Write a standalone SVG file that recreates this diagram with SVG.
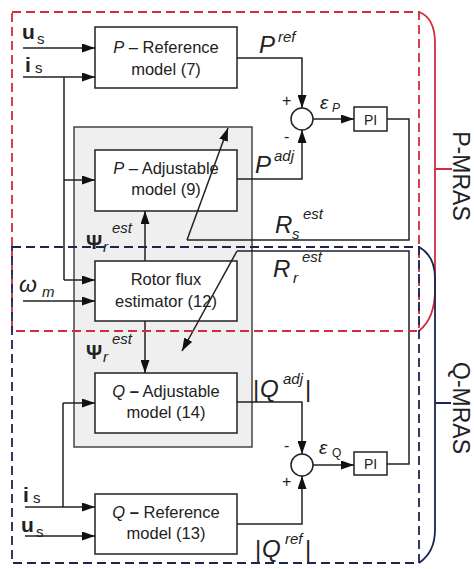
<svg xmlns="http://www.w3.org/2000/svg" width="474" height="569" viewBox="0 0 474 569">
<defs>
<marker id="ah" markerUnits="userSpaceOnUse" markerWidth="13" markerHeight="9" refX="13" refY="4.5" orient="auto">
<path d="M0,0 L13,4.5 L0,9 z" fill="#111"/>
</marker>
<style>
.box{fill:#fff;stroke:#222;stroke-width:1.5}
.gray{fill:#efefef;stroke:#444;stroke-width:1.5}
.ln{fill:none;stroke:#222;stroke-width:1.5}
.arr{fill:none;stroke:#222;stroke-width:1.5;marker-end:url(#ah)}
.t{font-family:"Liberation Sans",Arial,sans-serif;fill:#222}
.bt{font-size:16.5px;text-anchor:middle}
.it{font-style:italic}
.b{font-weight:bold}
.red{fill:none;stroke:#d42a3c;stroke-width:1.8;stroke-dasharray:9 5}
.blue{fill:none;stroke:#1c2456;stroke-width:1.8;stroke-dasharray:9 5}
</style>
</defs>
<rect width="474" height="569" fill="#fff"/>

<g id="gray-block"><rect class="gray" x="74" y="127" width="178" height="320"/></g>

<g id="p-ref"><rect class="box" x="95" y="27" width="142" height="61"/>
<text class="t bt" x="166" y="53"><tspan class="it">P</tspan> – Reference</text>
<text class="t bt" x="166" y="75">model (7)</text></g>

<g id="p-adj"><rect class="box" x="95" y="150" width="142" height="61"/>
<text class="t bt" x="166" y="174"><tspan class="it">P</tspan> – Adjustable</text>
<text class="t bt" x="166" y="195">model (9)</text></g>

<g id="rotor-flux"><rect class="box" x="95" y="261" width="142" height="60"/>
<text class="t bt" x="166" y="285">Rotor flux</text>
<text class="t bt" x="166" y="307">estimator (12)</text></g>

<g id="q-adj"><rect class="box" x="95" y="373" width="142" height="60"/>
<text class="t bt" x="166" y="397"><tspan class="it">Q</tspan> <tspan class="b">–</tspan> Adjustable</text>
<text class="t bt" x="166" y="418">model (14)</text></g>

<g id="q-ref"><rect class="box" x="95" y="494" width="142" height="60"/>
<text class="t bt" x="166" y="518"><tspan class="it">Q</tspan> <tspan class="b">–</tspan> Reference</text>
<text class="t bt" x="166" y="539">model (13)</text></g>

<g id="sum-p"><circle cx="302" cy="119" r="11" fill="#fff" stroke="#222" stroke-width="1.5"/></g>
<g id="sum-q"><circle cx="302" cy="465" r="11" fill="#fff" stroke="#222" stroke-width="1.5"/></g>

<g id="pi-p"><rect class="box" x="354" y="107" width="33" height="24"/>
<text class="t" x="370.5" y="125" font-size="14" text-anchor="middle">PI</text></g>
<g id="pi-q"><rect class="box" x="354" y="452" width="33" height="23"/>
<text class="t" x="370.5" y="469" font-size="14" text-anchor="middle">PI</text></g>

<g id="connectors">
<path class="arr" d="M23,48 H95"/>
<path class="arr" d="M23,77 H95"/>
<path class="ln" d="M64,77 V280"/>
<path class="arr" d="M64,180 H95"/>
<path class="arr" d="M64,280 H95"/>
<path class="arr" d="M23,301 H95"/>
<path class="arr" d="M145,261 V211"/>
<path class="arr" d="M145,321 V373"/>
<path class="arr" d="M237,58 H302 V108"/>
<path class="arr" d="M237,179 H302 V130"/>
<path class="arr" d="M313,119 H354"/>
<path class="ln" d="M387,119 H409 V240 H187"/>
<path class="arr" d="M187,240 L228,128"/>
<path class="ln" d="M387,464 H409 V251 H237"/>
<path class="arr" d="M237,251 L182,351"/>
<path class="arr" d="M237,402 H302 V454"/>
<path class="arr" d="M237,524 H302 V476"/>
<path class="arr" d="M313,465 H354"/>
<path class="arr" d="M25,507 H95"/>
<path class="ln" d="M63,507 V403"/>
<path class="arr" d="M63,403 H95"/>
<path class="arr" d="M25,536 H95"/>
</g>

<g id="labels" class="t">
<text x="22" y="39" font-size="21" class="b">u</text><text x="37" y="44" font-size="15">s</text>
<text x="25" y="72" font-size="21" class="b">i</text><text x="35" y="73" font-size="15">s</text>
<text x="19" y="292" font-size="23" class="it">ω</text><text x="42" y="297" font-size="15" class="it">m</text>
<text x="23" y="502" font-size="21" class="b">i</text><text x="33" y="503" font-size="15">s</text>
<text x="21" y="532" font-size="21" class="b">u</text><text x="36" y="537" font-size="15">s</text>

<text x="86" y="249" font-size="20" class="b">Ψ</text><text x="103" y="252" font-size="15" class="it">r</text><text x="112" y="233" font-size="15" class="it">est</text>
<text x="86" y="359" font-size="20" class="b">Ψ</text><text x="103" y="362" font-size="15" class="it">r</text><text x="112" y="344" font-size="15" class="it">est</text>

<text x="259" y="53" font-size="24" class="it">P</text><text x="278" y="42" font-size="15" class="it">ref</text>
<text x="255" y="173" font-size="24" class="it">P</text><text x="274" y="161" font-size="15" class="it">adj</text>
<text x="282" y="106" font-size="16">+</text>
<text x="284" y="142" font-size="16">-</text>
<text x="320" y="109" font-size="19" class="it">ε</text><text x="332" y="112" font-size="12" class="it">P</text>

<text x="275" y="233" font-size="24" class="it">R</text><text x="292" y="239" font-size="15" class="it">s</text><text x="303" y="219" font-size="15" class="it">est</text>
<text x="273" y="277" font-size="24" class="it">R</text><text x="293" y="283" font-size="15" class="it">r</text><text x="302" y="262" font-size="15" class="it">est</text>

<text x="253" y="397" font-size="24">|</text><text x="260" y="397" font-size="24" class="it">Q</text><text x="283" y="384" font-size="15" class="it">adj</text><text x="305" y="397" font-size="24">|</text>
<text x="284" y="451" font-size="16">-</text>
<text x="282" y="487" font-size="16">+</text>
<text x="319" y="454" font-size="19" class="it">ε</text><text x="332" y="457" font-size="12">Q</text>
<text x="255" y="557" font-size="24">|</text><text x="262" y="557" font-size="24" class="it">Q</text><text x="285" y="544" font-size="15" class="it">ref</text><text x="305" y="557" font-size="24">|</text>
</g>

<g id="p-mras">
<rect class="red" x="12" y="12" width="407" height="319"/>
<path d="M419,12 Q435,18 435,43 V290 Q435,318 419,331 M435,169 H452" fill="none" stroke="#d42a3c" stroke-width="1.8"/>
<text class="t" transform="translate(453,176) rotate(90)" font-size="23" text-anchor="middle">P-MRAS</text>
</g>
<g id="q-mras">
<rect class="blue" x="12" y="247" width="407" height="316"/>
<path d="M419,247 Q435,256 435,278 V530 Q435,552 419,563 M435,403 H451" fill="none" stroke="#1c2456" stroke-width="1.8"/>
<text class="t" transform="translate(453,408) rotate(90)" font-size="23" text-anchor="middle">Q-MRAS</text>
</g>
</svg>
